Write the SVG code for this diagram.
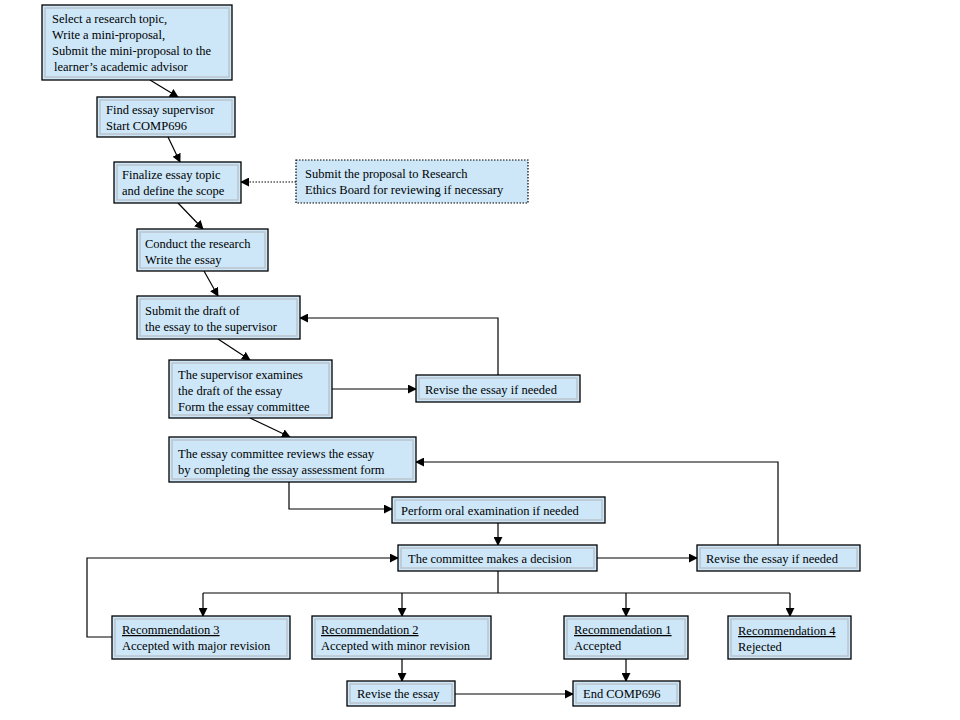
<svg xmlns="http://www.w3.org/2000/svg" width="960" height="720" viewBox="0 0 960 720">
<style>
.b{fill:#cde7f8;stroke:#000;stroke-width:1.3}
.i{fill:none;stroke:#b8c4cc;stroke-width:1.5}
.d{fill:#cde7f8;stroke:#000;stroke-width:1.2;stroke-dasharray:1.5,1.5}
text{font-family:"Liberation Serif","Times New Roman",serif;font-size:12.5px;fill:#000}
.c{fill:none;stroke:#000;stroke-width:1.2}
.u{text-decoration:underline}
</style>
<defs><marker id="a" viewBox="0 0 10 10" refX="9" refY="5" markerWidth="9" markerHeight="9" markerUnits="userSpaceOnUse" orient="auto"><path d="M0,0L10,5L0,10z" fill="#000"/></marker></defs>
<rect width="960" height="720" fill="#fff"/>
<g id="connectors" class="c" marker-end="url(#a)">
<path d="M150,80L178,97"/>
<path d="M168,137L180,162"/>
<path d="M296,182L241,182" stroke-dasharray="1.5,1.5"/>
<path d="M178,203L203,229"/>
<path d="M204,271L218,296"/>
<path d="M218,339L250,360"/>
<path d="M332,389L416,389"/>
<path d="M498,375V318H300"/>
<path d="M250,418L290,437"/>
<path d="M289,482V509H392"/>
<path d="M498,523V545"/>
<path d="M597,558H697"/>
<path d="M778,545V462H416"/>
<path d="M112,637H87V558H398"/>
<path d="M498,571V593" marker-end="none"/>
<path d="M203,593H790" marker-end="none"/>
<path d="M203,593V616"/>
<path d="M402,593V616"/>
<path d="M626,593V616"/>
<path d="M790,593V616"/>
<path d="M402,659V681"/>
<path d="M455,694H573"/>
<path d="M626,659V681"/>
</g>
<g id="n1"><rect class="b" x="42" y="5" width="190" height="75"/><rect class="i" x="45" y="8" width="184" height="69"/><text x="52" y="23">Select a research topic,</text><text x="52" y="39">Write a mini-proposal,</text><text x="52" y="55">Submit the mini-proposal to the</text><text x="54" y="71">learner’s academic advisor</text></g>
<g id="n2"><rect class="b" x="97" y="97" width="138" height="40"/><rect class="i" x="100" y="100" width="132" height="34"/><text x="106" y="114">Find essay supervisor</text><text x="106" y="130">Start COMP696</text></g>
<g id="n3"><rect class="b" x="114" y="162" width="127" height="41"/><rect class="i" x="117" y="165" width="121" height="35"/><text x="122" y="179">Finalize essay topic</text><text x="122" y="195">and define the scope</text></g>
<g id="n4"><rect class="d" x="296" y="160" width="232" height="43"/><text x="305" y="178">Submit the proposal to Research</text><text x="305" y="194">Ethics Board for reviewing if necessary</text></g>
<g id="n5"><rect class="b" x="137" y="229" width="131" height="42"/><rect class="i" x="140" y="232" width="125" height="36"/><text x="145" y="248">Conduct the research</text><text x="145" y="264">Write the essay</text></g>
<g id="n6"><rect class="b" x="137" y="296" width="163" height="43"/><rect class="i" x="140" y="299" width="157" height="37"/><text x="145" y="315">Submit the draft of</text><text x="145" y="331">the essay to the supervisor</text></g>
<g id="n7"><rect class="b" x="169" y="360" width="163" height="58"/><rect class="i" x="172" y="363" width="157" height="52"/><text x="178" y="379">The supervisor examines</text><text x="178" y="395">the draft of the essay</text><text x="178" y="411">Form the essay committee</text></g>
<g id="n8"><rect class="b" x="416" y="375" width="164" height="27"/><rect class="i" x="419" y="378" width="158" height="21"/><text x="425" y="394">Revise the essay if needed</text></g>
<g id="n9"><rect class="b" x="169" y="437" width="247" height="45"/><rect class="i" x="172" y="440" width="241" height="39"/><text x="178" y="458">The essay committee reviews the essay</text><text x="178" y="474">by completing the essay assessment form</text></g>
<g id="n10"><rect class="b" x="392" y="497" width="213" height="26"/><rect class="i" x="395" y="500" width="207" height="20"/><text x="401" y="515">Perform oral examination if needed</text></g>
<g id="n11"><rect class="b" x="398" y="545" width="199" height="26"/><rect class="i" x="401" y="548" width="193" height="20"/><text x="408" y="563">The committee makes a decision</text></g>
<g id="n12"><rect class="b" x="697" y="545" width="163" height="26"/><rect class="i" x="700" y="548" width="157" height="20"/><text x="706" y="563">Revise the essay if needed</text></g>
<g id="n13"><rect class="b" x="112" y="616" width="178" height="43"/><rect class="i" x="115" y="619" width="172" height="37"/><text x="122" y="634" class="u">Recommendation 3</text><text x="122" y="650">Accepted with major revision</text></g>
<g id="n14"><rect class="b" x="312" y="616" width="179" height="43"/><rect class="i" x="315" y="619" width="173" height="37"/><text x="321" y="634" class="u">Recommendation 2</text><text x="321" y="650">Accepted with minor revision</text></g>
<g id="n15"><rect class="b" x="564" y="616" width="124" height="43"/><rect class="i" x="567" y="619" width="118" height="37"/><text x="574" y="634" class="u">Recommendation 1</text><text x="574" y="650">Accepted</text></g>
<g id="n16"><rect class="b" x="728" y="616" width="123" height="43"/><rect class="i" x="731" y="619" width="117" height="37"/><text x="738" y="635" class="u">Recommendation 4</text><text x="738" y="651">Rejected</text></g>
<g id="n17"><rect class="b" x="347" y="681" width="108" height="25"/><rect class="i" x="350" y="684" width="102" height="19"/><text x="357" y="698">Revise the essay</text></g>
<g id="n18"><rect class="b" x="573" y="681" width="107" height="25"/><rect class="i" x="576" y="684" width="101" height="19"/><text x="583" y="698">End COMP696</text></g>
</svg>
